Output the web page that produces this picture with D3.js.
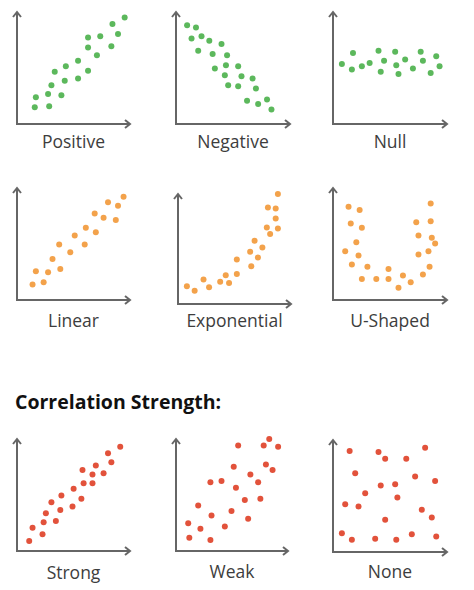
<!DOCTYPE html>
<html>
<head>
<meta charset="utf-8">
<script src="https://cdn.jsdelivr.net/npm/d3@7"></script>
<style>
  body { margin: 0; background: #fff; }
  svg { display: block; }
</style>
</head>
<body>
<svg id="chart" width="474" height="590"></svg>
<script>
// Scatter patterns, values on a 0-100 scale for both axes
const positive = [[16,15],[17,24],[29,16],[28,27],[31,35],[40,26],[34,47],[43,39],[44,52],[55,41],[55,57],[64,48],[64,69],[64,78],[72,62],[75,79],[85,70],[91,81],[86,90],[97,96]];
const negative = [[10,89],[18,87],[14,77],[23,79],[30,75],[41,72],[20,66],[33,63],[46,62],[35,50],[45,53],[56,52],[44,44],[59,43],[69,41],[47,35],[56,34],[72,32],[64,21],[74,18],[82,22],[86,13]];
const nullRel = [[8,54],[18,64],[17,49],[26,52],[33,55],[41,66],[46,57],[43,47],[56,65],[57,53],[59,45],[65,58],[72,50],[79,65],[81,57],[88,46],[93,61],[96,52]];
const linear = [[14,14],[17,26],[24,16],[28,25],[32,37],[39,28],[38,50],[48,43],[52,58],[61,50],[62,65],[71,61],[70,78],[78,74],[82,88],[89,72],[91,85],[96,93]];
const exponential = [[8,16],[15,12],[23,22],[28,15],[38,20],[43,26],[46,19],[53,27],[53,40],[65,47],[66,34],[69,57],[72,42],[76,51],[80,69],[83,63],[81,87],[88,86],[88,77],[90,68],[90,99]];
const uShaped = [[14,84],[24,81],[16,69],[26,65],[21,52],[11,44],[23,40],[17,32],[31,30],[26,19],[39,19],[50,28],[50,19],[59,11],[63,22],[70,16],[81,23],[87,30],[77,41],[86,44],[77,58],[89,56],[92,51],[75,70],[88,71],[88,87]];
const strong = [[11,9],[14,21],[23,15],[24,26],[26,34],[35,27],[31,44],[39,37],[40,50],[50,40],[51,56],[58,47],[60,61],[59,73],[68,61],[68,69],[71,77],[78,70],[85,80],[82,88],[93,94]];
const weak = [[11,25],[12,12],[22,20],[20,41],[31,10],[32,32],[31,62],[41,63],[44,22],[50,36],[52,76],[54,57],[56,95],[62,46],[65,29],[67,69],[74,62],[76,47],[81,78],[87,73],[79,95],[84,101],[92,94]];
const none = [[15,91],[41,90],[47,84],[66,84],[83,94],[20,71],[74,68],[92,64],[43,60],[56,61],[29,53],[58,49],[11,43],[23,41],[80,38],[89,31],[47,29],[8,17],[17,11],[38,12],[57,11],[71,16],[93,14]];

const labels = ["Positive", "Negative", "Null", "Linear", "Exponential", "U-Shaped", "Strong", "Weak", "None"];
const seriesList = [positive, negative, nullRel, linear, exponential, uShaped, strong, weak, none];
const colors = ["#5cb85c", "#5cb85c", "#5cb85c", "#f3a24b", "#f3a24b", "#f3a24b", "#e2523b", "#e2523b", "#e2523b"];
const title = "Correlation Strength:";

// panel geometry: axis origin, axis ends, label baseline
const panels = [
  { ox: 17, oy: 124, right: 130, top: 12, ly: 148 },
  { ox: 176, oy: 124, right: 290, top: 12, ly: 148 },
  { ox: 333, oy: 124, right: 447, top: 12, ly: 148 },
  { ox: 17, oy: 300, right: 130, top: 188, ly: 327 },
  { ox: 178, oy: 304, right: 291, top: 194, ly: 327 },
  { ox: 333, oy: 300, right: 447, top: 188, ly: 327 },
  { ox: 17, oy: 551, right: 130, top: 439, ly: 579 },
  { ox: 176, oy: 551, right: 288, top: 439, ly: 578 },
  { ox: 333, oy: 552, right: 447, top: 440, ly: 578 }
];

const svg = d3.select("#chart");
const axisColor = "#666";

panels.forEach((p, i) => {
  const g = svg.append("g");
  const x = d3.scaleLinear().domain([0, 100]).range([p.ox, p.ox + 111]);
  const y = d3.scaleLinear().domain([0, 100]).range([p.oy, p.oy - 111]);

  // axes with open arrow heads
  g.append("path")
    .attr("d", `M${p.ox},${p.top} L${p.ox},${p.oy} L${p.right},${p.oy}`)
    .attr("fill", "none")
    .attr("stroke", axisColor)
    .attr("stroke-width", 2);
  g.append("path")
    .attr("d", `M${p.ox - 4},${p.top + 5} L${p.ox},${p.top} L${p.ox + 4},${p.top + 5}`)
    .attr("fill", "none")
    .attr("stroke", axisColor)
    .attr("stroke-width", 2);
  g.append("path")
    .attr("d", `M${p.right - 5},${p.oy - 4} L${p.right},${p.oy} L${p.right - 5},${p.oy + 4}`)
    .attr("fill", "none")
    .attr("stroke", axisColor)
    .attr("stroke-width", 2);

  g.selectAll("circle")
    .data(seriesList[i])
    .enter()
    .append("circle")
    .attr("cx", (d) => x(d[0]))
    .attr("cy", (d) => y(d[1]))
    .attr("r", 3)
    .attr("fill", colors[i]);

  g.append("text")
    .attr("x", (p.ox + p.right) / 2)
    .attr("y", p.ly)
    .attr("text-anchor", "middle")
    .attr("font-family", "'Open Sans', sans-serif")
    .attr("font-size", 17.5)
    .attr("fill", "#3d3d3d")
    .text(labels[i]);
});

svg.append("text")
  .attr("x", 15)
  .attr("y", 409)
  .attr("font-family", "'Open Sans', sans-serif")
  .attr("font-weight", "bold")
  .attr("font-size", 19.5)
  .attr("fill", "#111")
  .text(title);
</script>
</body>
</html>
